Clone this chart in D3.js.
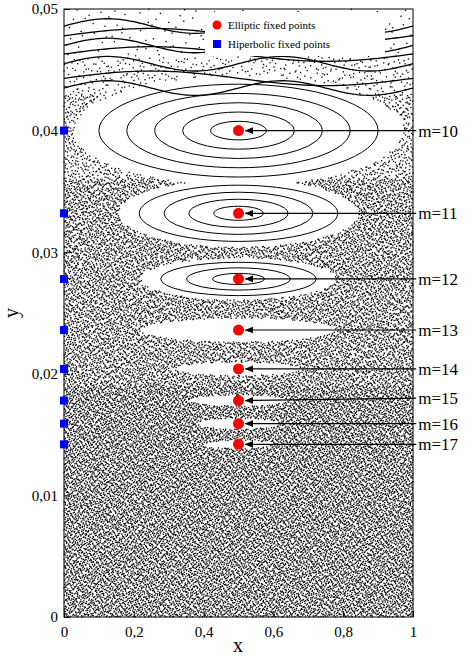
<!DOCTYPE html><html><head><script src="https://cdn.jsdelivr.net/npm/d3@7"></script>
<style>body{margin:0;background:#fff}</style></head><body><svg id="c" width="474" height="663"></svg><script>
const mLabels=["m=10","m=11","m=12","m=13","m=14","m=15","m=16","m=17"];
const fixedY=[0.0400,0.0332,0.0278,0.0236,0.0204,0.0178,0.0159,0.0142];
const labelY=[0.0400,0.0332,0.0278,0.0236,0.0204,0.0180,0.0159,0.0142];
const islandHW=[0.44,0.32,0.26,0.26,0.17,0.13,0.11,0.09];
const islandHH=[0.0042,0.0026,0.0016,0.0009,0.0005,0.0004,0.0004,0.0003];
const xTicks=[0,0.2,0.4,0.6,0.8,1],yTicks=[0,0.01,0.02,0.03,0.04,0.05];
const fmt=d=>d===0?"0":(d===1?"1":String(d).replace(".",","));
const svg=d3.select("#c"),L=64,R=413,T=9,B=617;
const x=d3.scaleLinear([0,1],[L,R]),y=d3.scaleLinear([0,0.05],[B,T]);
const g=svg.append("g");
function halton(i,b){let f=1,r=0;while(i>0){f/=b;r+=f*(i%b);i=Math.floor(i/b);}return r;}
function dens(v){if(v<0.019)return 1;if(v<0.036)return 0.8;if(v<0.043)return 0.45;if(v<0.046)return 0.15;return 0.04;}
let pts=[];
for(let i=1;i<52000;i++){const px=halton(i,2),py=halton(i,3)*0.05,t=halton(i,5);
 if(t>dens(py))continue;
 let inside=false;
 for(let k=0;k<fixedY.length;k++){const dx=(px-0.5)/islandHW[k],dy=(py-fixedY[k])/islandHH[k];if(dx*dx+dy*dy<1.15){inside=true;break;}}
 if(!inside)pts.push([px,py]);}
g.selectAll("rect.p").data(pts).join("rect").attr("x",d=>x(d[0])-0.6).attr("y",d=>y(d[1])-0.6).attr("width",1.3).attr("height",1.3).attr("fill","#000");
for(let k=0;k<3;k++){const n=[5,4,3][k];for(let j=1;j<=n;j++){const s=j/(n+0.5);
 g.append("ellipse").attr("cx",x(0.5)).attr("cy",y(fixedY[k])).attr("rx",(x(islandHW[k])-x(0))*s).attr("ry",(y(0)-y(islandHH[k]))*s).attr("fill","none").attr("stroke","#000").attr("stroke-width",1);}}
const bandY=[0.0435,0.0443,0.0455,0.0463,0.0470,0.0478,0.0486];
bandY.forEach((b,i)=>{const ln=d3.line().x(d=>x(d)).y(d=>y(b+0.0006*Math.sin(2*Math.PI*d*(i%2?1:2))));g.append("path").attr("d",ln(d3.range(0,1.001,0.01))).attr("fill","none").attr("stroke","#000").attr("stroke-width",1.3);});
svg.append("rect").attr("x",L).attr("y",T).attr("width",R-L).attr("height",B-T).attr("fill","none").attr("stroke","#000");
const ax=svg.append("g").attr("transform",`translate(0,${B})`).call(d3.axisBottom(x).tickValues(xTicks).tickFormat(fmt).tickSize(-6).tickPadding(9));
const ay=svg.append("g").attr("transform",`translate(${L},0)`).call(d3.axisLeft(y).tickValues(yTicks).tickFormat(fmt).tickSize(-6).tickPadding(6));
[ax,ay].forEach(a=>{a.select(".domain").remove();a.selectAll("text").attr("font-family","Liberation Serif").attr("font-size",15).attr("fill","#000");});
svg.append("text").attr("x",238).attr("y",652).attr("text-anchor","middle").attr("font-family","Liberation Serif").attr("font-size",20).text("x");
svg.append("text").attr("transform","translate(18,313) rotate(-90)").attr("text-anchor","middle").attr("font-family","Liberation Serif").attr("font-size",20).text("y");
svg.append("defs").append("marker").attr("id","ah").attr("viewBox","0 0 10 10").attr("refX",9).attr("refY",5).attr("markerWidth",7).attr("markerHeight",7).attr("orient","auto").append("path").attr("d","M0,1L10,5L0,9z");
mLabels.forEach((m,k)=>{svg.append("line").attr("x1",x(1.02)).attr("y1",y(labelY[k])).attr("x2",x(0.52)).attr("y2",y(fixedY[k])).attr("stroke","#000").attr("stroke-width",1.2).attr("marker-end","url(#ah)");
 svg.append("rect").attr("x",x(1.015)-2).attr("y",y(labelY[k])-9).attr("width",58).attr("height",18).attr("fill","#fff");
 svg.append("text").attr("x",x(1.015)).attr("y",y(labelY[k])+6).attr("font-family","Liberation Serif").attr("font-size",17).text(m);});
svg.selectAll("circle.e").data(fixedY).join("circle").attr("cx",x(0.5)).attr("cy",d=>y(d)).attr("r",5.5).attr("fill","#f00");
svg.selectAll("rect.h").data(fixedY).join("rect").attr("x",x(0)-4).attr("y",d=>y(d)-4).attr("width",8).attr("height",8).attr("fill","#0000ff");
const lg=svg.append("g");
lg.append("rect").attr("x",205).attr("y",12).attr("width",180).attr("height",44).attr("fill","#fff");
lg.append("circle").attr("cx",217).attr("cy",25).attr("r",4.5).attr("fill","#f00");
lg.append("rect").attr("x",213).attr("y",40).attr("width",8).attr("height",8).attr("fill","#0000ff");
lg.append("text").attr("x",228).attr("y",29).attr("font-family","Liberation Serif").attr("font-size",11).text("Elliptic fixed points");
lg.append("text").attr("x",228).attr("y",48).attr("font-family","Liberation Serif").attr("font-size",11).text("Hiperbolic fixed points");
</script></body></html>
